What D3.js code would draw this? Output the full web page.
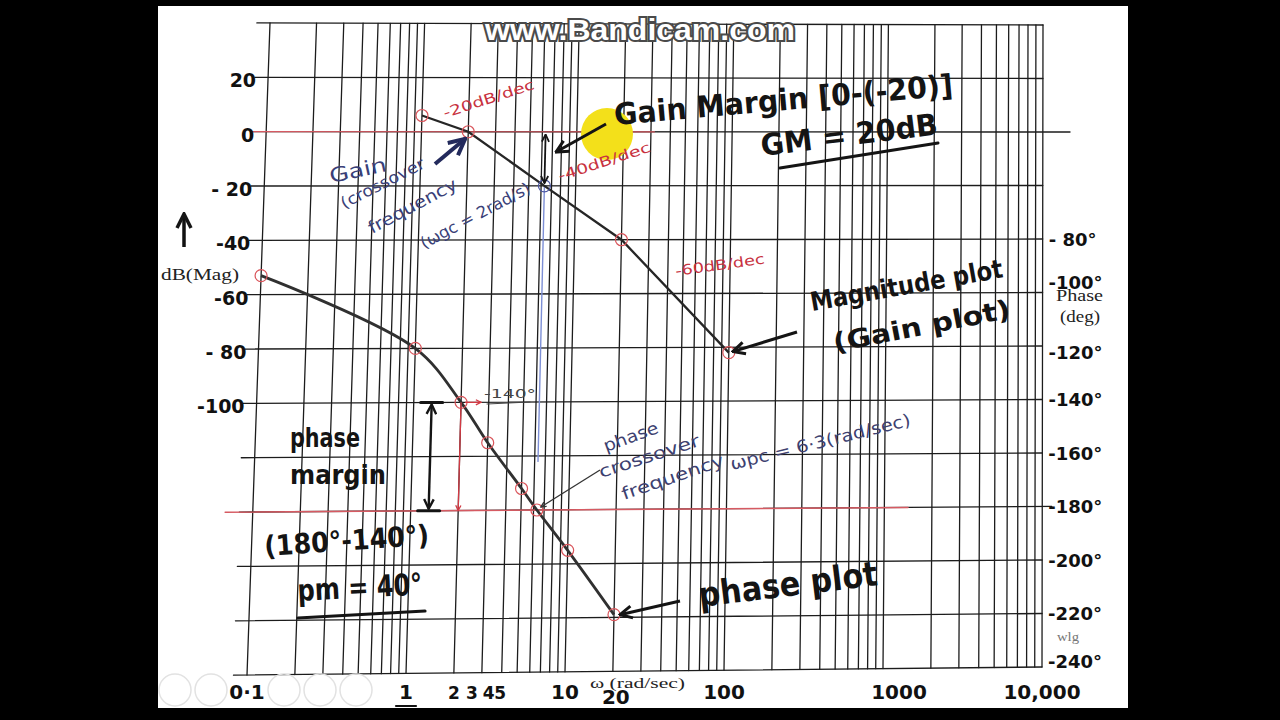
<!DOCTYPE html>
<html>
<head>
<meta charset="utf-8">
<script src="https://cdn.jsdelivr.net/npm/d3@7"></script>
<style>
  html, body { margin: 0; padding: 0; background: #000; }
  svg { display: block; }
</style>
</head>
<body>
<div id="chart"></div>
<script>
// ---- data ----
// magnitude (asymptotic) plot: corner points
const magW  = [1, 2, 6.3, 20, 100];
const magDb = [6, 0, -20, -40, -82];

// phase plot: plotted points
const phaseW   = [0.1, 1, 2, 3, 5, 6.3, 10, 20];
const phaseDeg = [-93, -120, -140, -155, -172, -180, -195, -219];

// tick labels
const freqTicks  = [0.1, 1, 2, 3, 4, 5, 10, 20, 100, 1000, 10000];
const freqLabels = ['0·1', '1', '2', '3', '4', '5', '10', '20', '100', '1000', '10,000'];
const magTicks   = [20, 0, -20, -40, -60, -80, -100];
const magLabels  = ['20', '0', '- 20', '-40', '-60', '- 80', '-100'];
const phaseTicks  = [-80, -100, -120, -140, -160, -180, -200, -220, -240];
const phaseLabels = ['- 80°', '-100°', '-120°', '-140°', '-160°', '-180°', '-200°', '-220°', '-240°'];

const W = 1280, H = 720;

const svg = d3.select('#chart')
    .append('svg')
    .attr('width', W)
    .attr('height', H);

// black screen + white sheet
svg.append('rect').attr('width', W).attr('height', H).attr('fill', '#000');
svg.append('rect').attr('x', 158).attr('y', 6).attr('width', 970).attr('height', 702).attr('fill', '#fff');

// the photographed sheet is a little skewed, so map the unit square onto its corners
const TL = [270, 23], TR = [1043, 25], BL = [247, 675], BR = [1042, 667];

const u     = d3.scaleLog().domain([0.1, 10000]).range([0, 1]);
const vMag  = d3.scaleLinear().domain([40, -200]).range([0, 1]);
const vPh   = d3.scaleLinear().domain([0, -240]).range([0, 1]);

function warp(a, b) {
    const x = (1 - a) * (1 - b) * TL[0] + a * (1 - b) * TR[0] + (1 - a) * b * BL[0] + a * b * BR[0];
    const y = (1 - a) * (1 - b) * TL[1] + a * (1 - b) * TR[1] + (1 - a) * b * BL[1] + a * b * BR[1];
    return [x, y];
}
const magPt = (w, db) => warp(u(w), vMag(db));
const phPt  = (w, deg) => warp(u(w), vPh(deg));

const seg = (g, p, q, stroke, sw) => g.append('line')
    .attr('x1', p[0]).attr('y1', p[1]).attr('x2', q[0]).attr('y2', q[1])
    .attr('stroke', stroke).attr('stroke-width', sw).attr('stroke-linecap', 'round');

// arrow heads
const defs = svg.append('defs');
[['head', '#151515'], ['headBlue', '#232a5c'], ['headRed', '#d23a44'], ['headThin', '#333']].forEach(([id, c]) => {
    defs.append('marker')
        .attr('id', id).attr('viewBox', '0 0 10 10')
        .attr('refX', 9).attr('refY', 5)
        .attr('markerWidth', 5).attr('markerHeight', 5)
        .attr('orient', 'auto-start-reverse')
        .append('path').attr('d', 'M1,1 L9,5 L1,9')
        .attr('fill', 'none').attr('stroke', c).attr('stroke-width', 2);
});

// ---- semi-log grid ----
const grid = svg.append('g').classed('grid', true);

u.ticks().forEach(w => {
    seg(grid, warp(u(w), 0), warp(u(w), 1), '#1c1c1c', 1.3);
});
vMag.ticks(12).forEach(db => {
    const b = vMag(db);
    const right = db === 0 ? 1.035 : (db === -200 + 20 * 3 ? 1.012 : 1);
    seg(grid, warp(-0.017, b), warp(right, b), '#1c1c1c', 1.3);
});

// red reference lines: 0 dB and -180°
seg(grid, warp(-0.02, vMag(0)), warp(0.5, vMag(0)), '#d65a62', 1.2);
seg(grid, warp(-0.035, vPh(-180)), warp(0.83, vPh(-180)), '#d65a62', 1.4);

// thin blue construction line at the phase crossover frequency
seg(grid, magPt(6.3, -20), phPt(6.3, -162), '#7d8fd6', 1.4);

// yellow cursor highlight
svg.append('circle').attr('cx', 607).attr('cy', 134).attr('r', 26).attr('fill', '#f3e01a');

// ---- curves ----
const line = d3.line().x(d => d[0]).y(d => d[1]);

svg.append('path')
    .datum(magW.map((w, i) => magPt(w, magDb[i])))
    .attr('d', line)
    .attr('fill', 'none').attr('stroke', '#262626').attr('stroke-width', 2.3);

svg.append('path')
    .datum(phaseW.map((w, i) => phPt(w, phaseDeg[i])))
    .attr('d', line.curve(d3.curveCatmullRom.alpha(0.5)))
    .attr('fill', 'none').attr('stroke', '#303030').attr('stroke-width', 2.8);

const circ = (p, c) => svg.append('circle')
    .attr('cx', p[0]).attr('cy', p[1]).attr('r', 6)
    .attr('fill', 'none').attr('stroke', c).attr('stroke-width', 1.2);

magW.forEach((w, i) => circ(magPt(w, magDb[i]), w === 6.3 ? '#4a55a0' : '#d9545a'));
phaseW.forEach((w, i) => circ(phPt(w, phaseDeg[i]), '#d9545a'));

// ---- axis labels ----
const marker = "'DejaVu Sans', sans-serif";
const serif  = "'Liberation Serif', 'DejaVu Serif', serif";

const lab = svg.append('g').attr('fill', '#111').attr('font-family', marker).attr('font-weight', 700);

magTicks.forEach((db, i) => {
    const p = warp(0, vMag(db));
    lab.append('text')
        .attr('x', p[0] - 12).attr('y', p[1] + 3)
        .attr('text-anchor', 'end').attr('dominant-baseline', 'central')
        .attr('font-size', 19)
        .text(magLabels[i]);
});

phaseTicks.forEach((deg, i) => {
    const p = warp(1, vPh(deg));
    const nudge = deg === -100 ? -10 : (deg === -240 ? -6 : (deg === -120 ? 6 : 0));
    lab.append('text')
        .attr('x', p[0] + 6).attr('y', p[1] + nudge)
        .attr('dominant-baseline', 'central')
        .attr('font-size', 18)
        .text(phaseLabels[i]);
});

const freqNudge = {3: -10, 4: -13, 5: -17, 1000: 16, 20: 3};
freqTicks.forEach((w, i) => {
    const p = warp(u(w), 1);
    lab.append('text')
        .attr('x', p[0] + (freqNudge[w] || 0)).attr('y', w === 20 ? 704 : 699)
        .attr('text-anchor', 'middle')
        .attr('font-size', w >= 2 && w <= 5 ? 17 : 20)
        .text(freqLabels[i]);
});
seg(lab, [396, 706], [416, 706], '#111', 2.2);

// y-axis arrow
svg.append('path')
    .attr('d', 'M184,247 L184,214')
    .attr('stroke', '#111').attr('stroke-width', 3.5).attr('fill', 'none')
    .attr('marker-end', 'url(#head)');

const note = (x, y, str, o) => {
    const t = svg.append('text')
        .attr('transform', `translate(${x},${y}) rotate(${o.rot || 0})`)
        .attr('font-family', o.family || marker)
        .attr('font-weight', o.weight || 700)
        .attr('font-size', o.size)
        .attr('fill', o.color || '#141414')
        .text(str);
    if (o.len) t.attr('textLength', o.len).attr('lengthAdjust', 'spacingAndGlyphs');
    return t;
};

// serif printed labels
note(161, 280, 'dB(Mag)', {family: serif, weight: 400, size: 17, len: 78, color: '#222'});
note(1056, 301, 'Phase', {family: serif, weight: 400, size: 16, len: 47, color: '#222'});
note(1060, 322, '(deg)', {family: serif, weight: 400, size: 16, len: 40, color: '#222'});
note(590, 688, 'ω (rad/sec)', {family: serif, weight: 400, size: 15, len: 95, color: '#222'});
note(1057, 641, 'wlg', {family: serif, weight: 400, size: 12, len: 22, color: '#777'});

// red slope notes
const red = '#c8323f';
note(445, 118, '-20dB/dec', {weight: 400, size: 14, rot: -18, len: 95, color: red});
note(560, 181, '-40dB/dec', {weight: 400, size: 14, rot: -18, len: 96, color: red});
note(676, 276, '-60dB/dec', {weight: 400, size: 14, rot: -8, len: 90, color: red});

// gain crossover notes (blue pen)
const blue = '#3a3f78';
note(331, 183, 'Gain', {weight: 400, size: 20, rot: -12, len: 58, color: blue});
note(344, 209, '(crossover', {weight: 400, size: 16, rot: -27, len: 92, color: blue});
note(372, 234, 'frequency', {weight: 400, size: 17, rot: -28, len: 98, color: blue});
note(424, 249, '(ωgc = 2rad/s)', {weight: 400, size: 16, rot: -28, len: 122, color: blue});
svg.append('path')
    .attr('d', `M435,164 L${magPt(2, -1.5)[0] - 3},${magPt(2, -1.5)[1] + 3}`)
    .attr('stroke', '#232a5c').attr('stroke-width', 4).attr('fill', 'none')
    .attr('marker-end', 'url(#headBlue)');

// phase crossover notes
const pen = '#3d4170';
note(606, 452, 'phase', {weight: 400, size: 17, rot: -20, len: 57, color: pen});
note(601, 478, 'crossover', {weight: 400, size: 17, rot: -18, len: 105, color: pen});
note(624, 500, 'frequency', {weight: 400, size: 17, rot: -19, len: 107, color: pen});
note(732, 470, 'ωpc = 6·3(rad/sec)', {weight: 400, size: 17, rot: -14, len: 185, color: pen});
const pc = phPt(6.3, -180);
svg.append('path')
    .attr('d', `M600,470 L${pc[0] + 4},${pc[1] - 3}`)
    .attr('stroke', '#333').attr('stroke-width', 1.3).attr('fill', 'none')
    .attr('marker-end', 'url(#headThin)');

// gain margin
note(615, 125, 'Gain Margin [0-(-20)]', {size: 30, rot: -5, len: 340});
note(762, 156, 'GM = 20dB', {size: 30, rot: -7, len: 178});
seg(svg, [780, 168], [938, 143], '#141414', 3);
svg.append('path')
    .attr('d', `M${magPt(6.3, -1)[0]},${magPt(6.3, -1)[1]} L${magPt(6.3, -19)[0]},${magPt(6.3, -19)[1]}`)
    .attr('stroke', '#141414').attr('stroke-width', 1.8).attr('fill', 'none')
    .attr('marker-start', 'url(#head)').attr('marker-end', 'url(#head)');
svg.append('path')
    .attr('d', 'M606,124 L556,152')
    .attr('stroke', '#141414').attr('stroke-width', 3).attr('fill', 'none')
    .attr('marker-end', 'url(#head)');

// magnitude plot label
note(812, 311, 'Magnitude plot', {size: 26, rot: -10, len: 195});
note(835, 352, '(Gain plot)', {size: 26, rot: -11, len: 180});
const mEnd = magPt(100, -82);
svg.append('path')
    .attr('d', `M797,332 L${mEnd[0] + 4},${mEnd[1] - 1}`)
    .attr('stroke', '#141414').attr('stroke-width', 3).attr('fill', 'none')
    .attr('marker-end', 'url(#head)');

// phase plot label
note(700, 607, 'phase plot', {size: 34, rot: -7, len: 180});
const pEnd = phPt(20, -219);
svg.append('path')
    .attr('d', `M680,601 L${pEnd[0] + 6},${pEnd[1]}`)
    .attr('stroke', '#141414').attr('stroke-width', 3).attr('fill', 'none')
    .attr('marker-end', 'url(#head)');

// phase margin
note(290, 447, 'phase', {size: 26, len: 70});
note(290, 484, 'margin', {size: 26, len: 96});
note(265, 556, '(180°-140°)', {size: 28, rot: -4, len: 165});
note(298, 601, 'pm = 40°', {size: 30, rot: -3, len: 125});
seg(svg, [298, 618], [425, 611], '#141414', 3.2);

const pmTop = phPt(1.3, -140), pmBot = phPt(1.3, -180);
svg.append('path')
    .attr('d', `M${pmTop[0]},${pmTop[1] + 2} L${pmBot[0]},${pmBot[1] - 2}`)
    .attr('stroke', '#141414').attr('stroke-width', 2.4).attr('fill', 'none')
    .attr('marker-start', 'url(#head)').attr('marker-end', 'url(#head)');
seg(svg, [pmTop[0] - 11, pmTop[1]], [pmTop[0] + 11, pmTop[1]], '#141414', 3);
seg(svg, [pmBot[0] - 11, pmBot[1]], [pmBot[0] + 11, pmBot[1]], '#141414', 3);

const rTop = phPt(2, -140), rBot = phPt(2, -180);
svg.append('path')
    .attr('d', `M${rTop[0]},${rTop[1]} L${rBot[0]},${rBot[1]}`)
    .attr('stroke', '#d23a44').attr('stroke-width', 1.3).attr('fill', 'none')
    .attr('marker-end', 'url(#headRed)');
svg.append('path')
    .attr('d', `M${rTop[0] + 4},${rTop[1]} L${rTop[0] + 20},${rTop[1]}`)
    .attr('stroke', '#d23a44').attr('stroke-width', 1.3).attr('fill', 'none')
    .attr('marker-end', 'url(#headRed)');
note(484, 398, '-140°', {weight: 400, size: 13, len: 52, color: '#444'});
seg(svg, [487, 404], [530, 402], '#444', 1);

// watermark
svg.append('text')
    .attr('x', 485).attr('y', 40)
    .attr('font-family', "'Liberation Sans', Arial, sans-serif")
    .attr('font-weight', 700).attr('font-size', 29)
    .attr('textLength', 310).attr('lengthAdjust', 'spacingAndGlyphs')
    .attr('fill', '#fff').attr('stroke', '#4a4a4a').attr('stroke-width', 4)
    .attr('paint-order', 'stroke')
    .text('www.Bandicam.com');

// faded player controls
[175, 211, 284, 320, 356].forEach(cx => {
    svg.append('circle').attr('cx', cx).attr('cy', 690).attr('r', 16)
        .attr('fill', 'none').attr('stroke', '#e2e2e2').attr('stroke-width', 1.5);
});
</script>
</body>
</html>
